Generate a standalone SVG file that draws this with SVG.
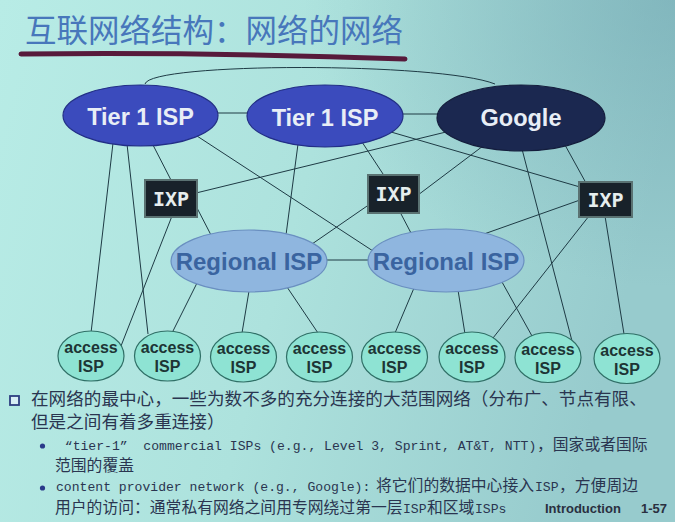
<svg xmlns="http://www.w3.org/2000/svg" width="675" height="522" viewBox="0 0 675 522">
<defs>
<linearGradient id="bg" x1="0" y1="0" x2="1" y2="0.2">
<stop offset="0" stop-color="#b8ece6"/>
<stop offset="0.5" stop-color="#ade2dd"/>
<stop offset="1" stop-color="#97cbcd"/>
</linearGradient>
<radialGradient id="tr" cx="1" cy="0" r="0.55">
<stop offset="0" stop-color="#6fa5b0" stop-opacity="0.55"/>
<stop offset="1" stop-color="#6fa5b0" stop-opacity="0"/>
</radialGradient>
<style>
.ln{stroke:#1e3a44;stroke-width:1;fill:none}
.t1{fill:#3b4bbd;stroke:#222e86;stroke-width:1.2}
.goo{fill:#1b2850;stroke:#141d3c;stroke-width:1.2}
.big{font-family:"Liberation Sans",Arial,sans-serif;font-weight:bold;font-size:23.5px;fill:#e8eef6;text-anchor:middle}
.ixp rect{fill:#18222a;stroke:#5a7272;stroke-width:2}
.ixp text{font-family:"DejaVu Sans Mono",monospace;font-weight:bold;font-size:20px;fill:#e6eeee;text-anchor:middle}
.reg ellipse{fill:#8fb6df;stroke:#6a8fc0;stroke-width:1.2}
.reg text{font-family:"Liberation Sans",Arial,sans-serif;font-weight:bold;font-size:24px;fill:#3a64a0;text-anchor:middle}
.acc ellipse{fill:#8ee3d3;stroke:#2f6f66;stroke-width:1.2}
.acc text{font-family:"Liberation Sans",Arial,sans-serif;font-weight:bold;font-size:16px;fill:#1d3535;text-anchor:middle}
.cn{font-family:"Noto Sans CJK SC",sans-serif;fill:#2a3550}
.mono{font-family:"Liberation Mono",monospace;font-size:13.1px}
.c16{font-family:"Noto Sans CJK SC",sans-serif;font-size:15.8px}
</style>
</defs>
<rect width="675" height="522" fill="url(#bg)"/>
<rect width="675" height="522" fill="url(#tr)"/>

<g id="title">
<text x="25" y="42" font-family="Noto Sans CJK SC, sans-serif" font-size="31.5" fill="#4777bb">互联网络结构：网络的网络</text>
<path d="M21,54 Q210,52 405,59" stroke="#571a3b" stroke-width="5" stroke-linecap="round" fill="none"/>
</g>

<g id="connectors">
<path class="ln" d="M145,84 C150,62 440,62 495,84"/>
<line class="ln" x1="215" y1="113" x2="250" y2="113"/>
<line class="ln" x1="400" y1="114" x2="440" y2="114"/>
<line class="ln" x1="113" y1="143" x2="91" y2="333"/>
<line class="ln" x1="127" y1="144" x2="148" y2="334"/>
<line class="ln" x1="153" y1="145" x2="172" y2="182"/>
<line class="ln" x1="197" y1="136" x2="373" y2="251"/>
<line class="ln" x1="196" y1="193" x2="446" y2="132"/>
<line class="ln" x1="172" y1="216" x2="121" y2="346"/>
<line class="ln" x1="196" y1="206" x2="211" y2="235"/>
<line class="ln" x1="197" y1="283" x2="172" y2="333"/>
<line class="ln" x1="298" y1="144" x2="286" y2="235"/>
<line class="ln" x1="362" y1="142" x2="385" y2="177"/>
<line class="ln" x1="391" y1="132" x2="580" y2="187"/>
<line class="ln" x1="418" y1="195" x2="483" y2="146"/>
<line class="ln" x1="370" y1="204" x2="312" y2="244"/>
<line class="ln" x1="400" y1="212" x2="411" y2="233"/>
<line class="ln" x1="522" y1="149" x2="572" y2="341"/>
<line class="ln" x1="565" y1="145" x2="586" y2="183"/>
<line class="ln" x1="580" y1="200" x2="484" y2="234"/>
<line class="ln" x1="589" y1="216" x2="493" y2="338"/>
<line class="ln" x1="605" y1="216" x2="624" y2="334"/>
<line class="ln" x1="249" y1="291" x2="242" y2="333"/>
<line class="ln" x1="287" y1="287" x2="318" y2="333"/>
<line class="ln" x1="414" y1="288" x2="395" y2="333"/>
<line class="ln" x1="458" y1="290" x2="465" y2="334"/>
<line class="ln" x1="502" y1="282" x2="532" y2="336"/>
<line class="ln" x1="325" y1="260" x2="370" y2="260"/>
</g>

<g id="tier1-left"><ellipse class="t1" cx="140.5" cy="115.5" rx="77.5" ry="30.5"/><text class="big" x="140.5" y="125">Tier 1 ISP</text></g>
<g id="tier1-mid"><ellipse class="t1" cx="325" cy="116" rx="78" ry="31"/><text class="big" x="325" y="125.5">Tier 1 ISP</text></g>
<g id="google"><ellipse class="goo" cx="521" cy="118" rx="84" ry="33"/><text class="big" x="521" y="126">Google</text></g>

<g id="ixp-left" class="ixp"><rect x="145" y="180" width="52" height="37"/><text x="171" y="205.5">IXP</text></g>
<g id="ixp-mid" class="ixp"><rect x="368" y="175" width="51" height="38"/><text x="393.5" y="201">IXP</text></g>
<g id="ixp-right" class="ixp"><rect x="579" y="182" width="53" height="35"/><text x="605.5" y="206.5">IXP</text></g>

<g id="regional-left" class="reg"><ellipse cx="249" cy="261" rx="78" ry="31"/><text x="249" y="270">Regional ISP</text></g>
<g id="regional-right" class="reg"><ellipse cx="446" cy="260.5" rx="78" ry="31.5"/><text x="446" y="269.5">Regional ISP</text></g>

<g id="access-1" class="acc"><ellipse cx="91" cy="356" rx="33" ry="25"/><text x="91" y="353">access</text><text x="91" y="372">ISP</text></g>
<g id="access-2" class="acc"><ellipse cx="167.5" cy="356" rx="33" ry="25"/><text x="167.5" y="353">access</text><text x="167.5" y="372">ISP</text></g>
<g id="access-3" class="acc"><ellipse cx="243.5" cy="357" rx="33" ry="25"/><text x="243.5" y="354">access</text><text x="243.5" y="373">ISP</text></g>
<g id="access-4" class="acc"><ellipse cx="319.5" cy="357" rx="33" ry="25"/><text x="319.5" y="354">access</text><text x="319.5" y="373">ISP</text></g>
<g id="access-5" class="acc"><ellipse cx="394.5" cy="357" rx="33" ry="25"/><text x="394.5" y="354">access</text><text x="394.5" y="373">ISP</text></g>
<g id="access-6" class="acc"><ellipse cx="472" cy="357" rx="33" ry="25"/><text x="472" y="354">access</text><text x="472" y="373">ISP</text></g>
<g id="access-7" class="acc"><ellipse cx="548" cy="357.5" rx="33" ry="25"/><text x="548" y="354.5">access</text><text x="548" y="373.5">ISP</text></g>
<g id="access-8" class="acc"><ellipse cx="627" cy="358.5" rx="33" ry="25"/><text x="627" y="355.5">access</text><text x="627" y="374.5">ISP</text></g>

<g id="notes">
<rect x="10" y="396" width="9" height="9" fill="#d8eef4" stroke="#2e3e80" stroke-width="1.8"/>
<text class="cn" x="31" y="405" font-size="17.6">在网络的最中心，一些为数不多的充分连接的大范围网络（分布广、节点有限、</text>
<text class="cn" x="31" y="428" font-size="17.6">但是之间有着多重连接）</text>
<circle cx="42.5" cy="446" r="2.6" fill="#2a3a8a"/>
<text class="cn" y="450"><tspan class="mono" x="64.8">“tier-1”&#160; commercial ISPs (e.g., Level 3, Sprint, AT&amp;T, NTT)</tspan><tspan class="c16" x="537">，国家或者国际</tspan></text>
<text class="cn c16" x="55" y="471">范围的覆盖</text>
<circle cx="42.5" cy="488" r="2.6" fill="#2a3a8a"/>
<text class="cn" y="491"><tspan class="mono" x="56">content provider network (e.g., Google):</tspan><tspan class="c16" x="376">将它们的数据中心接入</tspan><tspan class="mono" x="535">ISP</tspan><tspan class="c16" x="559">，方便周边</tspan></text>
<text class="cn" y="513"><tspan class="c16" x="55">用户的访问：通常私有网络之间用专网绕过第一层</tspan><tspan class="mono" x="403">ISP</tspan><tspan class="c16" x="427">和区域</tspan><tspan class="mono" x="475">ISPs</tspan></text>
<text x="545" y="513" font-family="Liberation Sans, Arial, sans-serif" font-weight="bold" font-size="13" fill="#2a3040">Introduction</text>
<text x="641" y="513" font-family="Liberation Sans, Arial, sans-serif" font-weight="bold" font-size="13" fill="#2a3040">1-57</text>
</g>
</svg>
